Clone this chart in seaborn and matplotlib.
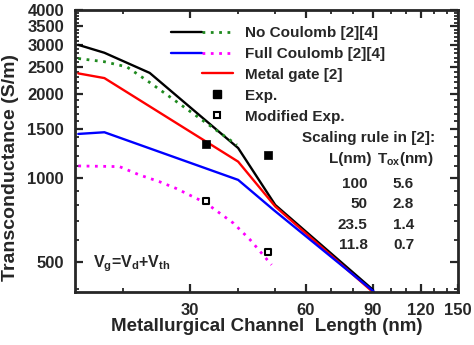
import numpy as np
import pandas as pd
import seaborn as sns
import matplotlib
matplotlib.use("Agg")
import matplotlib.pyplot as plt
from matplotlib.lines import Line2D
from matplotlib.legend_handler import HandlerTuple
from matplotlib.ticker import FixedLocator, FixedFormatter, NullFormatter

# ---- data ----
nocoul_x = [15.3, 17.9, 23.5, 40.0, 50.0, 90.0]
nocoul_y = [3000, 2810, 2380, 1280, 800, 397]
nocoul4_x = [15.3, 17.9, 20.5, 23.5, 39.7]
nocoul4_y = [2680, 2610, 2500, 2200, 1313]
metal_x = [15.3, 17.9, 40.0, 50.0, 89.5]
metal_y = [2370, 2280, 1144, 790, 392]
fullcoul_x = [15.3, 17.9, 40.0, 49.5, 90.5]
fullcoul_y = [1438, 1458, 984, 768, 391]
fullcoul4_x = [15.3, 19.6, 22.1, 24.9, 27.5, 33.0, 38.9, 43.0, 48.9]
fullcoul4_y = [1104, 1098, 1025, 970, 918, 812, 688, 600, 488]
exp_x = [33.0, 48.0]
exp_y = [1320, 1206]
modexp_x = [33.0, 48.0]
modexp_y = [830, 542]

x_ticks = [30, 60, 90, 120, 150]
x_minor = [20, 40, 50, 70, 80, 100, 110, 130, 140]
y_ticks = [500, 1000, 1500, 2000, 2500, 3000, 3500, 4000]

scal_L = ["100", "50", "23.5", "11.8"]
scal_T = ["5.6", "2.8", "1.4", "0.7"]

GREEN = "#1f8a1f"
BLUE = "#0000ff"
RED = "#ff0000"
MAG = "#ff00ff"

sns.set_style("ticks")
plt.rcParams["font.family"] = ["Liberation Sans", "DejaVu Sans"]
plt.rcParams["font.weight"] = "bold"
plt.rcParams["axes.labelweight"] = "bold"
plt.rcParams["mathtext.fontset"] = "custom"
plt.rcParams["mathtext.rm"] = "Liberation Sans:bold"
plt.rcParams["mathtext.it"] = "Liberation Sans:bold"
plt.rcParams["mathtext.bf"] = "Liberation Sans:bold"
plt.rcParams["mathtext.default"] = "bf"

W, H = 474, 345
fig = plt.figure(figsize=(W / 100, H / 100), dpi=100)
L, R, T, B = 75, 458, 10, 292
ax = fig.add_axes([L / W, 1 - B / H, (R - L) / W, (B - T) / H])

dot = (0, (1, 2))
sns.lineplot(x=nocoul_x, y=nocoul_y, ax=ax, color="black", lw=1.7, sort=False, estimator=None)
sns.lineplot(x=nocoul4_x, y=nocoul4_y, ax=ax, color=GREEN, lw=2.0, linestyle=dot, sort=False, estimator=None)
sns.lineplot(x=metal_x, y=metal_y, ax=ax, color=RED, lw=1.7, sort=False, estimator=None)
sns.lineplot(x=fullcoul_x, y=fullcoul_y, ax=ax, color=BLUE, lw=1.7, sort=False, estimator=None)
sns.lineplot(x=fullcoul4_x, y=fullcoul4_y, ax=ax, color=MAG, lw=2.0, linestyle=dot, sort=False, estimator=None)
sns.scatterplot(x=exp_x, y=exp_y, ax=ax, marker="s", s=32, color="black", edgecolor="black", linewidth=0.5, zorder=5)
sns.scatterplot(x=modexp_x, y=modexp_y, ax=ax, marker="s", s=24, facecolor="white", edgecolor="black", linewidth=1.5, zorder=5)

ax.set_xscale("log")
ax.set_yscale("log")
ax.set_xlim(15, 150)
ax.set_ylim(390, 4000)
ax.xaxis.set_major_locator(FixedLocator(x_ticks))
ax.xaxis.set_major_formatter(FixedFormatter([str(v) for v in x_ticks]))
ax.xaxis.set_minor_locator(FixedLocator(x_minor))
ax.xaxis.set_minor_formatter(NullFormatter())
ax.yaxis.set_major_locator(FixedLocator(y_ticks))
ax.yaxis.set_major_formatter(FixedFormatter([str(v) for v in y_ticks]))
ax.yaxis.set_minor_locator(FixedLocator([v for v in range(400, 4000, 100) if v not in y_ticks]))
ax.yaxis.set_minor_formatter(NullFormatter())

for s in ax.spines.values():
    s.set_linewidth(2.0)
    s.set_visible(True)
ax.tick_params(which="both", direction="in", top=True, right=True)
ax.tick_params(which="major", length=6, width=1.6, labelsize=12, pad=8)
ax.tick_params(which="minor", length=3, width=1.3)
for lab in ax.get_xticklabels() + ax.get_yticklabels():
    lab.set_fontweight("bold")

ax.set_xlabel("Metallurgical Channel  Length (nm)", fontsize=13.5, fontweight="bold")
ax.set_ylabel("Transconductance (S/m)", fontsize=14, fontweight="bold")
ax.xaxis.set_label_coords(0.5, -0.092)
ax.yaxis.set_label_coords(-0.146, 0.443)

# legend
none = Line2D([], [], color="none")
h1 = (Line2D([], [], color="black", lw=1.7), Line2D([], [], color=GREEN, lw=2.0, ls=dot))
h2 = (Line2D([], [], color=BLUE, lw=1.7), Line2D([], [], color=MAG, lw=2.0, ls=dot))
h3 = (none, Line2D([], [], color=RED, lw=1.7))
h4 = (none, Line2D([], [], ls="none", marker="s", ms=6, color="black"))
h5 = (none, Line2D([], [], ls="none", marker="s", ms=5, mfc="white", mec="black", mew=1.5))
leg = ax.legend([h1, h2, h3, h4, h5],
                ["No Coulomb [2][4]", "Full Coulomb [2][4]", "Metal gate [2]", "Exp.", "Modified Exp."],
                handler_map={tuple: HandlerTuple(ndivide=None, pad=0.0)},
                loc="upper left", bbox_to_anchor=(171 / W, 1 - 26 / H), bbox_transform=fig.transFigure,
                frameon=False, fontsize=11, handlelength=4.05, handletextpad=0.8,
                borderpad=0, borderaxespad=0, labelspacing=0.45)
for t in leg.get_texts():
    t.set_fontweight("bold")

def ftext(x, y, s, **kw):
    fig.text(x / W, 1 - y / H, s, fontweight="bold", **kw)

ftext(302, 138, "Scaling rule in [2]:", fontsize=11, ha="left", va="center")
ftext(371, 159, "L(nm)", fontsize=11, ha="right", va="center")
ftext(377, 163, "T$_{ox}$(nm)", fontsize=11, ha="left", va="baseline")
rows_y = [184, 204.5, 225, 245]
for ly, a, b in zip(rows_y, scal_L, scal_T):
    ftext(367.5, ly, a, fontsize=11, ha="right", va="center")
    ftext(403.5, ly, b, fontsize=11, ha="center", va="center")
ftext(93, 267, "V$_g$=V$_d$+V$_{th}$", fontsize=11.5, ha="left", va="baseline")

fig.savefig("out.png", dpi=100)
